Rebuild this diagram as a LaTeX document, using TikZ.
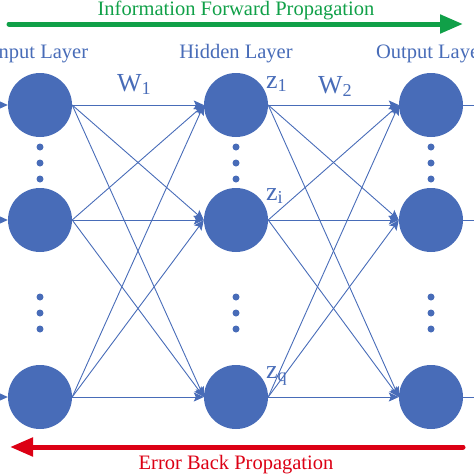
\documentclass[tikz,border=0pt]{standalone}
\usepackage{fontspec}
\setmainfont{Liberation Serif}
\usetikzlibrary{arrows.meta}
\definecolor{nnblue}{RGB}{72,108,184}
\definecolor{fwdgreen}{RGB}{16,160,72}
\definecolor{backred}{RGB}{220,0,20}
\tikzset{
  neuron/.style={circle,fill=nnblue,minimum size=64pt,inner sep=0pt},
  dotnode/.style={circle,fill=nnblue,minimum size=7pt,inner sep=0pt},
  wire/.style={draw=nnblue,line width=0.9pt,-{Stealth[length=10pt,width=9pt,inset=2pt]}},
  plain/.style={draw=nnblue,line width=0.9pt},
  bigarrow/.style={line width=5pt,line cap=round,-{Triangle[length=23pt,width=18pt]}},
  layertxt/.style={text=nnblue,font=\fontsize{20.5}{24}\selectfont,anchor=base,inner sep=0pt},
  wtxt/.style={text=nnblue,font=\fontsize{26}{30}\selectfont,anchor=base west,inner sep=0pt}
}
\begin{document}
\begin{tikzpicture}[x=1pt,y=-1pt]
\clip (0,0) rectangle (474,474);
\foreach \n/\x in {i/40,h/236,o/431}{
  \foreach \k/\y in {1/105,2/220,3/397}
    \node[neuron] (\n\k) at (\x,\y) {};
  \foreach \y in {147,163,179,297,313,329}
    \node[dotnode] (\n d\y) at (\x,\y) {};
}
\foreach \a in {1,2,3}
  \foreach \b in {1,2,3}{
    \draw[wire] (i\a.east) -- (h\b.west);
    \draw[wire] (h\a.east) -- (o\b.west);
  }
\foreach \k/\y in {1/105,2/220,3/397}{
  \coordinate (in\k) at (-6,\y);
  \coordinate (out\k) at (480,\y);
  \draw[wire] (in\k) -- (i\k.west);
  \draw[plain] (o\k.east) -- (out\k);
}
\node[layertxt] (inlbl) at (40,58) {Input Layer};
\node[layertxt] (hidlbl) at (236,58) {Hidden Layer};
\node[layertxt] (outlbl) at (431,58) {Output Layer};
\node[wtxt] (w1) at (117,91) {W\textsubscript{1}};
\node[wtxt] (w2) at (318,93) {W\textsubscript{2}};
\node[wtxt] (z1) at (266,88) {z\textsubscript{1}};
\node[wtxt] (zi) at (266,200) {z\textsubscript{i}};
\node[wtxt] (zq) at (266,378) {z\textsubscript{q}};
\coordinate (fs) at (9,24);
\coordinate (fe) at (463,24);
\draw[bigarrow,fwdgreen] (fs) -- (fe);
\node[layertxt,text=fwdgreen] (fwdtxt) at (236,15) {Information Forward Propagation};
\coordinate (bs) at (463,447);
\coordinate (be) at (10,447);
\draw[bigarrow,backred] (bs) -- (be);
\node[layertxt,text=backred] (backtxt) at (236,469) {Error Back Propagation};
\end{tikzpicture}
\end{document}
